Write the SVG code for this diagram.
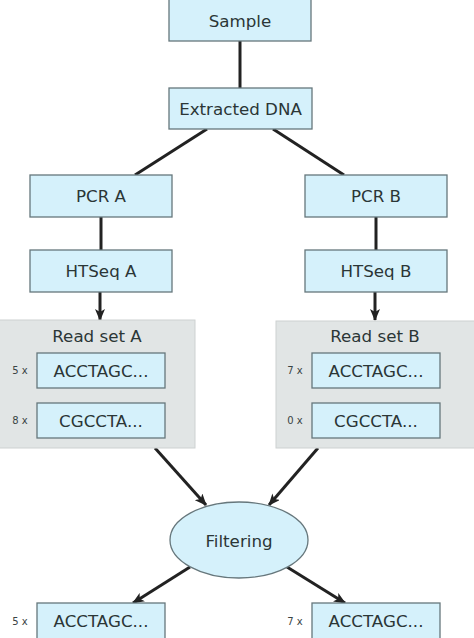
<svg xmlns="http://www.w3.org/2000/svg" width="474" height="638" viewBox="0 0 474 638">
<defs>
<style>
.box{fill:#d5f1fb;stroke:#66777c;stroke-width:1.3}
.set{fill:#e1e5e5;stroke:#cdd1d1;stroke-width:1}
.t{font-family:"DejaVu Sans",sans-serif;font-size:16.7px;fill:#2b3636;text-anchor:middle}
.s{font-family:"DejaVu Sans",sans-serif;font-size:10px;fill:#3a4444;text-anchor:middle}
.ln{stroke:#222;stroke-width:3;fill:none}
</style>
<marker id="ah" viewBox="0 0 12 10" refX="11" refY="5" markerWidth="12" markerHeight="10" markerUnits="userSpaceOnUse" orient="auto">
<path d="M0,0 L12,5 L0,10 L3,5 Z" fill="#222"/>
</marker>
</defs>
<rect width="474" height="638" fill="#fff"/>
<g id="connectors">
<line class="ln" x1="240" y1="41" x2="240" y2="88"/>
<line class="ln" x1="207" y1="129" x2="135" y2="175"/>
<line class="ln" x1="273" y1="129" x2="344" y2="175"/>
<line class="ln" x1="101" y1="217" x2="101" y2="250"/>
<line class="ln" x1="376" y1="217" x2="376" y2="250"/>
<line class="ln" x1="100" y1="292" x2="100" y2="320" marker-end="url(#ah)"/>
<line class="ln" x1="375" y1="292" x2="375" y2="320" marker-end="url(#ah)"/>
<line class="ln" x1="155" y1="448" x2="206" y2="505" marker-end="url(#ah)"/>
<line class="ln" x1="318" y1="448" x2="269" y2="505" marker-end="url(#ah)"/>
<line class="ln" x1="190" y1="567" x2="133" y2="603" marker-end="url(#ah)"/>
<line class="ln" x1="287" y1="567" x2="345" y2="603" marker-end="url(#ah)"/>
</g>
<g id="sample"><rect class="box" x="169" y="-1" width="142" height="42"/><text class="t" x="240" y="26.5">Sample</text></g>
<g id="extracted"><rect class="box" x="169" y="88" width="143" height="41"/><text class="t" x="240.5" y="114.5">Extracted DNA</text></g>
<g id="pcrA"><rect class="box" x="30" y="175" width="142" height="42"/><text class="t" x="101" y="201.5">PCR A</text></g>
<g id="pcrB"><rect class="box" x="305" y="175" width="142" height="42"/><text class="t" x="376" y="201.5">PCR B</text></g>
<g id="htseqA"><rect class="box" x="30" y="250" width="142" height="42"/><text class="t" x="101" y="276.5">HTSeq A</text></g>
<g id="htseqB"><rect class="box" x="305" y="250" width="142" height="42"/><text class="t" x="376" y="276.5">HTSeq B</text></g>
<g id="readsetA">
<rect class="set" x="-1" y="320" width="196" height="128"/>
<text class="t" x="97" y="341.5">Read set A</text>
<text class="s" x="20" y="374">5 x</text>
<rect class="box" x="37" y="353" width="128" height="35"/><text class="t" x="101" y="376.5">ACCTAGC...</text>
<text class="s" x="20" y="424">8 x</text>
<rect class="box" x="37" y="403" width="128" height="35"/><text class="t" x="101" y="426.5">CGCCTA...</text>
</g>
<g id="readsetB">
<rect class="set" x="276" y="321" width="199" height="127"/>
<text class="t" x="375" y="341.5">Read set B</text>
<text class="s" x="295" y="374">7 x</text>
<rect class="box" x="312" y="353" width="128" height="35"/><text class="t" x="376" y="376.5">ACCTAGC...</text>
<text class="s" x="295" y="424">0 x</text>
<rect class="box" x="312" y="403" width="128" height="35"/><text class="t" x="376" y="426.5">CGCCTA...</text>
</g>
<g id="filtering"><ellipse class="box" cx="239" cy="540" rx="69" ry="38"/><text class="t" x="239" y="546.5">Filtering</text></g>
<g id="outA"><text class="s" x="20" y="625">5 x</text><rect class="box" x="37" y="603" width="128" height="40"/><text class="t" x="101" y="626.5">ACCTAGC...</text></g>
<g id="outB"><text class="s" x="295" y="625">7 x</text><rect class="box" x="312" y="603" width="128" height="40"/><text class="t" x="376" y="626.5">ACCTAGC...</text></g>
</svg>
